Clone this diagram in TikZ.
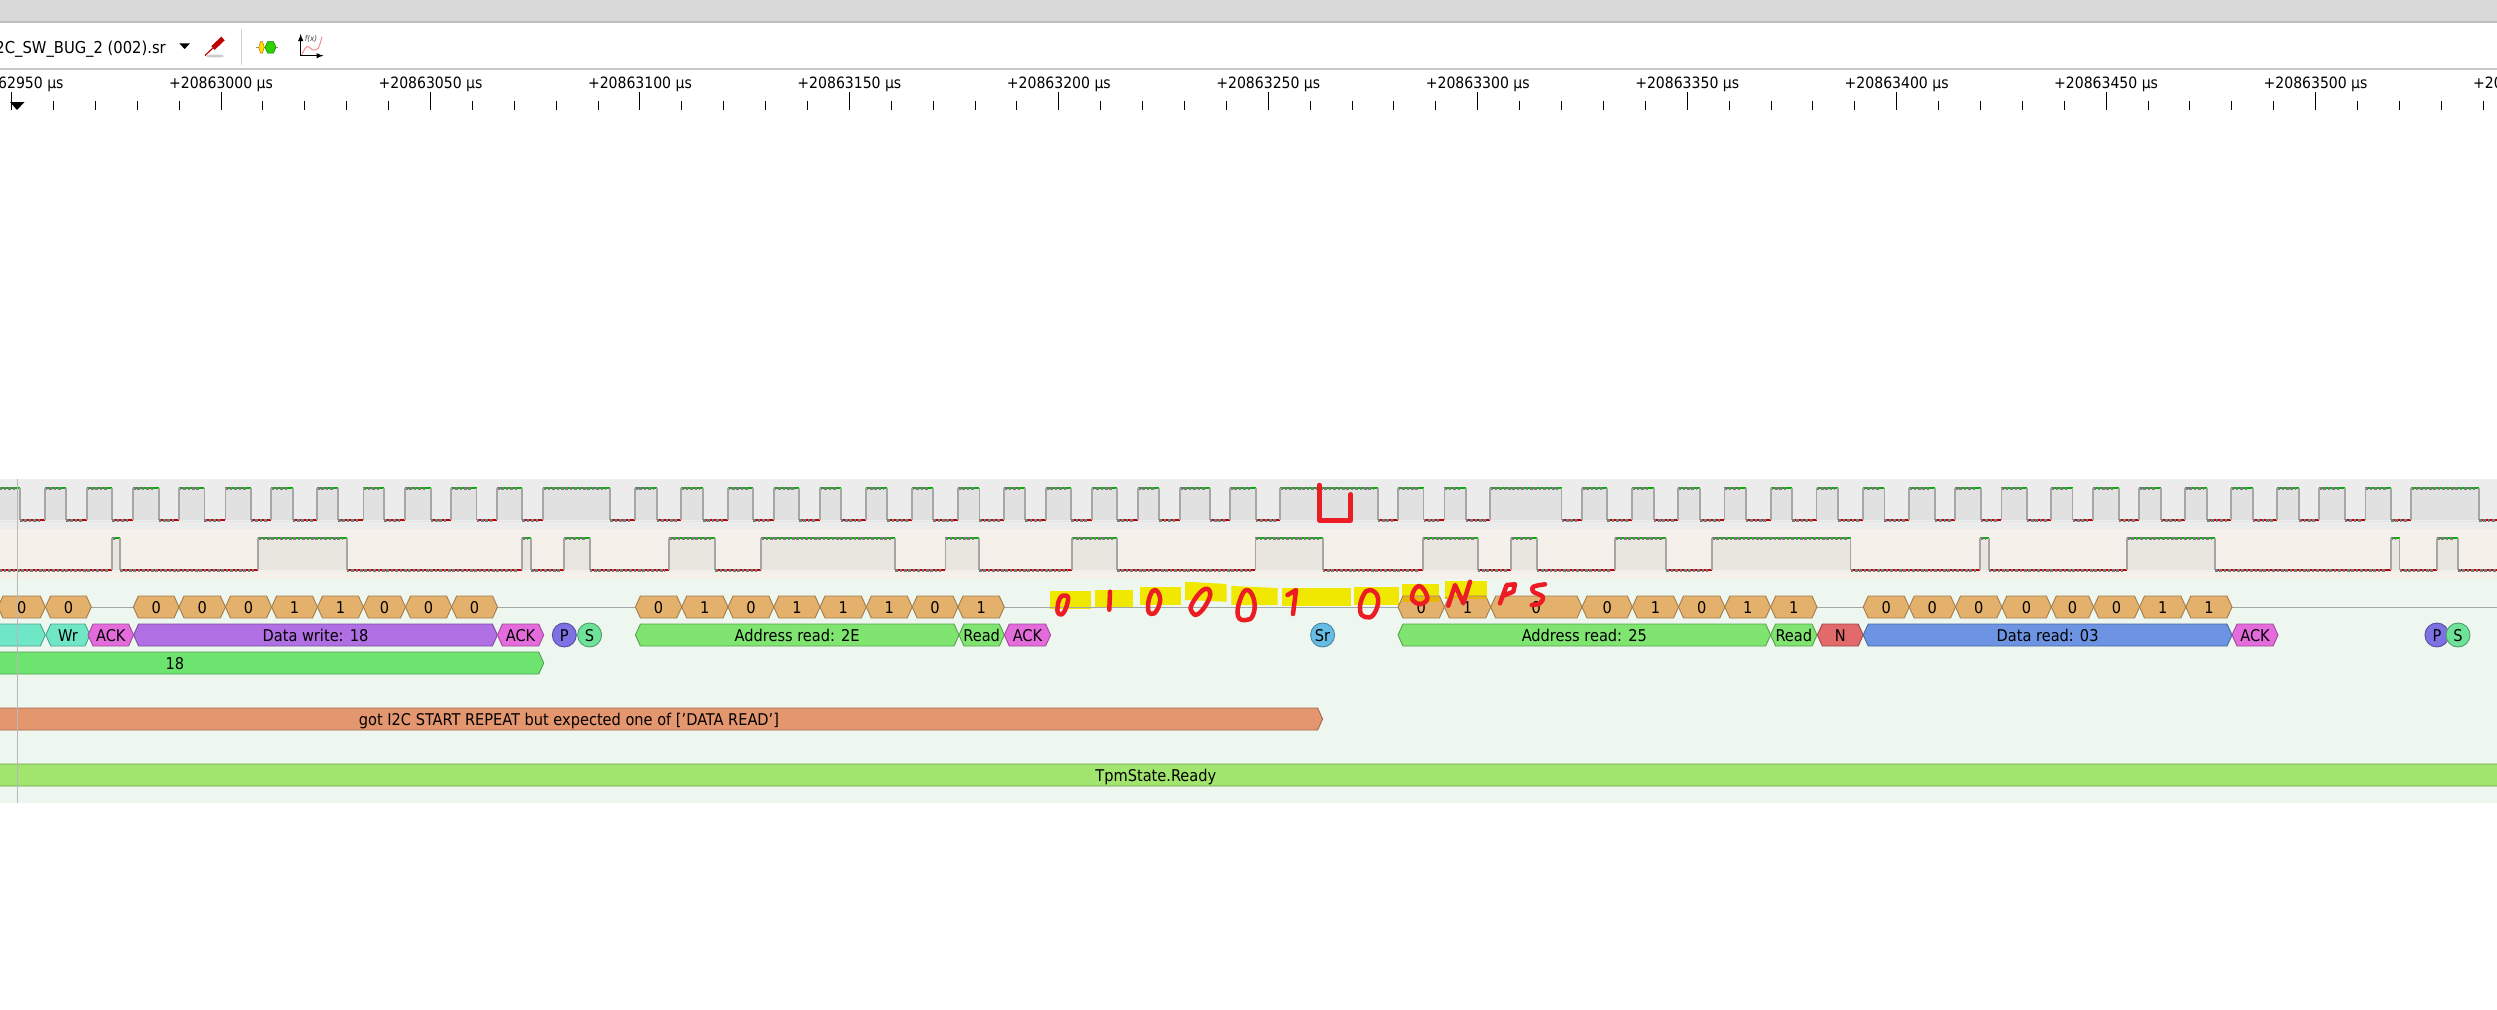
\documentclass[tikz,border=0pt]{standalone}
\usepackage{fontspec}
\setmainfont{DejaVu Sans Condensed}
\usetikzlibrary{calc}
\definecolor{bandclk}{HTML}{ECECEC}
\definecolor{bandsda}{HTML}{F5F1EA}
\definecolor{bandrow}{HTML}{EEF7EF}
\definecolor{highclk}{HTML}{E1E1E1}
\definecolor{highsda}{HTML}{E9E6DF}
\definecolor{marker}{HTML}{F0E800}
\definecolor{markerdark}{HTML}{E8B800}
\definecolor{pen}{HTML}{EC1C24}
\definecolor{bitfill}{HTML}{E4B16D}
\definecolor{addrcol}{HTML}{6FE7C7}
\definecolor{ackcol}{HTML}{E46BDC}
\definecolor{writecol}{HTML}{B06FE3}
\definecolor{stopcol}{HTML}{7D71E3}
\definecolor{startcol}{HTML}{6FE29A}
\definecolor{readcol}{HTML}{7FE570}
\definecolor{srcol}{HTML}{66BCE4}
\definecolor{nackcol}{HTML}{E26A6A}
\definecolor{datacol}{HTML}{6C94E2}
\definecolor{bytecol}{HTML}{6EE470}
\definecolor{errcol}{HTML}{E4966F}
\definecolor{statecol}{HTML}{A1E56E}
\tikzset{
	lbl/.style={font=\fontsize{16.2}{18}\selectfont, inner sep=0pt, text=black, text height=13.8pt, text depth=0pt},
	rulerlbl/.style={font=\fontsize{15.6}{18}\selectfont, inner sep=0pt, text=black, text height=10.6pt, text depth=0pt},
	bitcell/.style={fill=#1, draw=#1!70!black, line width=0.9pt},
	dotcell/.style={circle, minimum size=24pt, inner sep=0pt, fill=#1, draw=#1!70!black, line width=0.9pt, font=\fontsize{16.2}{18}\selectfont, text height=12pt, text depth=0pt},
	ink/.style={draw=pen, line width=4.5pt, line cap=round, line join=round},
	sampledots/.style={dash pattern=on 2.6pt off 1.8pt, line width=3pt, color=black!52},
}
% hexagon cell: style, name, left tip, right tip, middle y, text
\def\hexbox[#1](#2)(#3:#4:#5)#6{
	\draw[bitcell=#1] (#3,#5) -- ({#3+5},{#5-11}) -- ({#4-5},{#5-11}) -- (#4,#5) -- ({#4-5},{#5+11}) -- ({#3+5},{#5+11}) -- cycle;
	\node[lbl] (#2) at ({(#3+#4)/2},#5) {#6};
}
% logic trace: high y, low y, fill, list of high intervals
\def\wavetrace#1#2#3#4{
	\foreach \a/\b [remember=\b as \prev (initially -5)] in {#4} {
		\fill[#3] (\a,#1) rectangle (\b,#2);
		\draw[line width=1.3pt, color=red!75!black] (\prev,#2) -- (\a,#2);
		\draw[sampledots] (\prev,#2) -- ({max(\prev,\a-4)},#2);
		\draw[line width=1.3pt, color=green!70!black] (\a,#1) -- (\b,#1);
		\draw[sampledots] (\a,#1) -- ({max(\a,\b-4)},#1);
		\draw[line width=1.8pt, color=black!35] (\a,#1) -- (\a,#2);
		\draw[line width=1.8pt, color=black!35] (\b,#1) -- (\b,#2);
	}
}
\begin{document}
\begin{tikzpicture}[x=1pt,y=-1pt]
	\useasboundingbox (0,0) rectangle (2497,1009);
	\fill[white] (0,0) rectangle (2497,1009);

	%%%%% toolbar %%%%%
	\fill[black!15] (0,0) rectangle (2497,21.5);
	\draw[color=black!25, line width=1.2pt] (0,22) -- (2497,22);
	\draw[color=black!22, line width=1.2pt] (0,69) -- (2497,69);
	\node[lbl, anchor=east, font=\fontsize{16.4}{18}\selectfont, text height=10.6pt] (filename) at (166,48) {I2C\_SW\_BUG\_2 (002).sr};
	\fill[black] (179.3,43.3) -- (190,43.3) -- (184.6,49) -- cycle;
	\fill[black!20] (215,56) ellipse (9 and 1.5);
	\draw[color=red!75!black, line width=1.2pt] (205,55.5) -- (214,47);
	\draw[color=red!75!black, line width=5pt] (213,48) -- (223,38.5);
	\draw[color=black!18] (241.3,29) -- (241.3,65);
	\draw[color=black!45] (256,47.3) -- (277.7,47.3);
	\draw[fill=yellow!85!orange, draw=orange!80!black, line width=0.5pt] (258.7,47.3) -- (260.5,41.7) -- (262.5,41.7) -- (264.3,47.3) -- (262.5,53) -- (260.5,53) -- cycle;
	\draw[fill=green!65!olive, draw=green!50!black, line width=0.5pt] (265,47.3) -- (267.5,41.7) -- (273.5,41.7) -- (276,47.3) -- (273.5,53) -- (267.5,53) -- cycle;
	\draw[color=pen!50!white, line width=1pt] plot[smooth] coordinates {(301.7,55) (306.7,46.7) (313.3,50) (318.3,48.3) (322,36.7)};
	\node[inner sep=0pt, font=\fontsize{8}{9}\itshape\selectfont, text=black!75] (fx) at (311,39) {f(x)};
	\draw[-latex, line width=1.4pt] (300.7,55.7) -- (300.7,34);
	\draw[-latex, line width=1.4pt] (300.7,55.7) -- (323.5,55.7);

	%%%%% ruler %%%%%
	\foreach \n/\t in {0/62950,1/63000,2/63050,3/63100,4/63150,5/63200,6/63250,7/63300,8/63350,9/63400,10/63450,11/63500,12/63550} {
		\pgfmathsetmacro{\px}{11.6+209.45*\n}
		\node[rulerlbl] (time\n) at (\px,83) {+208\t\ µs};
		\draw[line width=1pt] (\px,92) -- (\px,110);
		\foreach \m in {1,2,3,4} {
			\draw[line width=1pt] ({\px+41.89*\m},101) -- ({\px+41.89*\m},110);
		}
	}
	\fill[black] (10,102) -- (24.5,102) -- (17,110) -- cycle;

	%%%%% bands %%%%%
	\fill[bandclk] (0,479) rectangle (2497,529);
	\fill[bandsda] (0,529) rectangle (2497,579);
	\fill[bandrow] (0,579) rectangle (2497,803);
	\draw[color=black!10] (0,521.5) -- (2497,521.5);
	\draw[color=black!8] (0,571.5) -- (2497,571.5);

	\wavetrace{488}{520}{highclk}{-5/20,44.7/66,86.6/112.3,132.9/158.6,178.7/204.4,225.4/250.7,271.3/292.6,317/338,363.4/384.3,404.9/430.6,450.8/476.5,497/522.3,543.3/610.1,635/656.8,681.3/703,727.6/753.3,773.8/799,819.7/840.6,865.6/887.3,911.8/933.2,958/979.4,1004.3/1025.3,1045.9/1071.2,1091.7/1117,1138/1159.3,1180/1209.6,1230/1255.8,1280.3/1377.6,1397.8/1423.5,1444.4/1465.8,1490.3/1561.5,1582/1607.3,1632.3/1653.6,1678.1/1699.9,1724.4/1745.7,1770.6/1792,1816.5/1838.3,1862.8/1884.4,1909.2/1934.7,1955/1980.7,2001.4/2026.6,2051.3/2072.5,2093.2/2118.8,2139/2160.6,2185/2207,2231.3/2252.8,2277.2/2299.2,2319/2344.7,2365.4/2391,2411.3/2479}
	\draw[line width=1.3pt, color=red!75!black] (2479,520) -- (2497,520);
	\draw[sampledots] (2479,520) -- (2497,520);

	\wavetrace{538}{570}{highsda}{112/120.2,258.2/346.8,522.3/531,564.3/589.6,669/715.3,761.2/895.2,945.4/979,1071.6/1117,1255.4/1322.6,1422.7/1477.6,1511.3/1536.6,1615.2/1666.3,1712/1850.5,1980.3/1988.8,2126.9/2215,2390.6/2399.5,2436.9/2458}
	\draw[line width=1.3pt, color=red!75!black] (2458,570) -- (2497,570);
	\draw[sampledots] (2458,570) -- (2497,570);

	%%%%% yellow marker %%%%%
	\fill[marker] (1050,591) rectangle (1091,609);
	\fill[marker] (1095.3,590) rectangle (1133.3,607.3);
	\fill[marker] (1140,587.3) rectangle (1181,605);
	\fill[marker] (1185,581.7) -- (1226.7,584) -- (1226.7,601.7) -- (1185,600) -- cycle;
	\fill[marker] (1231.3,586) -- (1277.7,588) -- (1277.7,605) -- (1231.3,605) -- cycle;
	\fill[marker] (1282.3,588) rectangle (1351,606);
	\fill[marker] (1354,587) rectangle (1399.3,605);
	\fill[marker] (1402,584) rectangle (1439.3,601.7);
	\fill[marker] (1445,581) rectangle (1487,599);

	\draw[color=black!35, line width=1pt] (0,607) -- (2497,607);

	%%%%% bits %%%%%
	\foreach \a/\b/\v [count=\n] in {-2/45.3/0,45.5/91.3/0,133.3/179/0,179/225.4/0,225.4/271.6/0,271.6/317.5/1,317.5/363.4/1,363.4/405.5/0,405.5/451.6/0,451.6/497.5/0,635.4/681.7/0,681.7/728/1,728/773.8/0,773.8/820/1,820/866.3/1,866.3/912.2/1,912.2/958/0,958/1004.3/1,1398/1444.4/0,1444.4/1490.7/1,1490.7/1582/0,1582/1632.3/0,1632.3/1678.5/1,1678.5/1724.8/0,1724.8/1770.6/1,1770.6/1817/1,1863.2/1909.2/0,1909.2/1955.5/0,1955.5/2001.8/0,2001.8/2051.3/0,2051.3/2093.6/0,2093.6/2139.5/0,2139.5/2185.8/1,2185.8/2232/1} {
		\hexbox[bitfill](bit\n)(\a:\b:607){\v}
	}
	\fill[markerdark] (1403,596.5) rectangle (1439.3,601.7);
	\fill[markerdark] (1445,596.5) rectangle (1487,599);

	%%%%% row of fields %%%%%
	\hexbox[addrcol](addrA)(-12:45.3:635){}
	\hexbox[addrcol](wr)(45.8:90:635){Wr}
	\hexbox[ackcol](ackA)(88:133.6:635){ACK}
	\hexbox[writecol](dataA)(133.6:497.4:635){Data write: 18}
	\hexbox[ackcol](ackB)(497.4:543.7:635){ACK}
	\node[dotcell=stopcol] (stopA) at (564.3,635) {P};
	\node[dotcell=startcol] (startA) at (589.6,635) {S};
	\hexbox[readcol](addrB)(635.4:959:635){Address read: 2E}
	\hexbox[readcol](readA)(959:1004.3:635){Read}
	\hexbox[ackcol](ackC)(1004.3:1050.6:635){ACK}
	\node[dotcell=srcol] (restart) at (1322.6,635) {Sr};
	\hexbox[readcol](addrC)(1398:1770.6:635){Address read: 25}
	\hexbox[readcol](readB)(1770.6:1817:635){Read}
	\hexbox[nackcol](nack)(1817.3:1863.2:635){N}
	\hexbox[datacol](dataB)(1863.2:2232:635){Data read: 03}
	\hexbox[ackcol](ackD)(2232:2278:635){ACK}
	\node[dotcell=stopcol] (stopB) at (2436.9,635) {P};
	\node[dotcell=startcol] (startB) at (2458,635) {S};

	%%%%% long rows %%%%%
	\hexbox[bytecol](byteA)(-12:543.7:663){}
	\node[lbl] (byteLbl) at (175,663) {18};
	\hexbox[errcol](errA)(-12:1322.6:719){}
	\node[lbl] (errLbl) at (569,719) {got I2C START REPEAT but expected one of ['DATA READ']};
	\hexbox[statecol](stateA)(-12:2510:775){}
	\node[lbl] (stateLbl) at (1155.8,775) {TpmState.Ready};

	\draw[color=black!28, line width=1pt] (17.4,479) -- (17.4,803);

	%%%%% red pen %%%%%
	\draw[ink] plot[smooth cycle, tension=0.8] coordinates {(1066,595.5) (1068,600) (1064,612) (1059,614) (1057.5,608) (1060,598)};
	\draw[ink] (1110,591.7) -- (1109.3,609.7);
	\draw[ink] plot[smooth cycle, tension=0.8] coordinates {(1155,590) (1160,598) (1157,610) (1151,614) (1148,608) (1150,596)};
	\draw[ink] plot[smooth cycle, tension=0.8] coordinates {(1203,590) (1210,592) (1207,603) (1198,614) (1192,612) (1192,604)};
	\draw[ink] plot[smooth cycle, tension=0.8] coordinates {(1247,590) (1254,600) (1253,615) (1246,620) (1238,616) (1240,600)};
	\draw[ink] (1287.5,595) -- (1296,590) -- (1293,614);
	\draw[ink] plot[smooth cycle, tension=0.8] coordinates {(1370,590) (1378,598) (1374,614) (1365,617) (1360,610) (1363,596)};
	\draw[ink] plot[smooth cycle, tension=0.8] coordinates {(1419,586) (1427,596) (1424,603) (1416,603) (1412,596)};
	\draw[ink] (1448.3,605.7) -- (1455,585) -- (1463.3,603.3) -- (1470,581.7);
	\draw[ink] (1500,603.3) -- (1506.7,585) -- (1515,584.3) -- (1513.3,591.7) -- (1503.3,595.7);
	\draw[ink] plot[smooth, tension=0.6] coordinates {(1545,584.3) (1533.3,586.7) (1533.3,591.7) (1542.7,596.7) (1540,603.3) (1531.7,605)};
	\draw[ink] (1319.3,485) -- (1319.3,520.3) -- (1350.7,520.3) -- (1350.7,494.3);
\end{tikzpicture}
\end{document}
